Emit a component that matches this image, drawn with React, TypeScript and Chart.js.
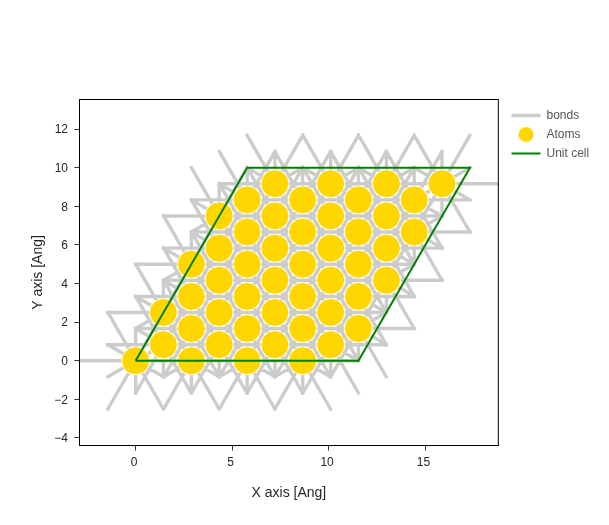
import React, { useEffect, useRef } from 'react';
import { Chart, registerables } from 'chart.js';

Chart.register(...registerables);

const atomX = [
  0,
  1.44, 1.44,
  2.89, 2.89, 2.89, 2.89,
  4.33, 4.33, 4.33, 4.33, 4.33,
  5.78, 5.78, 5.78, 5.78, 5.78, 5.78,
  7.22, 7.22, 7.22, 7.22, 7.22, 7.22,
  8.66, 8.66, 8.66, 8.66, 8.66, 8.66,
  10.11, 10.11, 10.11, 10.11, 10.11, 10.11,
  11.55, 11.55, 11.55, 11.55, 11.55,
  13.0, 13.0, 13.0, 13.0,
  14.44, 14.44,
  15.88,
];
const atomY = [
  0,
  0.83, 2.5,
  0, 1.67, 3.33, 5.0,
  0.83, 2.5, 4.17, 5.83, 7.5,
  0, 1.67, 3.33, 5.0, 6.67, 8.33,
  0.83, 2.5, 4.17, 5.83, 7.5, 9.17,
  0, 1.67, 3.33, 5.0, 6.67, 8.33,
  0.83, 2.5, 4.17, 5.83, 7.5, 9.17,
  1.67, 3.33, 5.0, 6.67, 8.33,
  4.17, 5.83, 7.5, 9.17,
  6.67, 8.33,
  9.17,
];

// neighbours of each atom: six at 1.67 Ang, six at 2.89 Ang
const bondDx = [1.44, 0, -1.44, -1.44, 0, 1.44, 2.89, 1.44, -1.44, -2.89, -1.44, 1.44];
const bondDy = [0.83, 1.67, 0.83, -0.83, -1.67, -0.83, 0, 2.5, 2.5, 0, -2.5, -2.5];

const cellX = [0, 11.55, 17.33, 5.78, 0];
const cellY = [0, 0, 10.0, 10.0, 0];

const xTicks = [0, 5, 10, 15];
const yTicks = [-4, -2, 0, 2, 4, 6, 8, 10, 12];

const legendNames = ['bonds', 'Atoms', 'Unit cell'];

const FONT = 'Liberation Sans';
const GOLD = '#ffd700';
const GREY = '#cccccc';
const GREEN = '#008000';

export default function App() {
  const chartRef = useRef<HTMLCanvasElement>(null);

  useEffect(() => {
    if (!chartRef.current) return;
    const ctx = chartRef.current.getContext('2d');
    if (!ctx) return;

    // segments separated by gaps so the whole bond network is one dataset
    const bondPoints: { x: number | null; y: number | null }[] = [];
    atomX.forEach((x, i) => {
      bondDx.forEach((dx, k) => {
        bondPoints.push({ x, y: atomY[i] });
        bondPoints.push({ x: x + dx, y: atomY[i] + bondDy[k] });
        bondPoints.push({ x: null, y: null });
      });
    });

    // legend marker for the atoms
    const atomMarker = document.createElement('canvas');
    atomMarker.width = 16;
    atomMarker.height = 16;
    const mctx = atomMarker.getContext('2d');
    if (mctx) {
      mctx.fillStyle = GOLD;
      mctx.beginPath();
      mctx.arc(8, 8, 7.5, 0, Math.PI * 2);
      mctx.fill();
    }

    const frame = {
      id: 'frame',
      // the legend sits further from the axes than chart.js would put it
      afterLayout(chart: Chart) {
        if (chart.legend) {
          chart.legend.left = 504.5;
          chart.legend.top += 3;
        }
      },
      afterDraw(chart: Chart) {
        const { left, top, width, height } = chart.chartArea;
        const c = chart.ctx;
        c.save();
        c.strokeStyle = '#000';
        c.lineWidth = 1;
        c.strokeRect(left, top, width, height);
        c.restore();
      },
    };

    const chart = new Chart(ctx, {
      type: 'scatter',
      plugins: [frame],
      data: {
        datasets: [
          {
            label: legendNames[0],
            data: bondPoints,
            showLine: true,
            spanGaps: false,
            borderColor: GREY,
            borderWidth: 3.4,
            borderCapStyle: 'square',
            pointRadius: 0,
            order: 3,
          },
          {
            label: legendNames[1],
            data: atomX.map((x, i) => ({ x, y: atomY[i] })),
            showLine: false,
            backgroundColor: GOLD,
            borderColor: '#ffffff',
            pointRadius: 14,
            pointBorderWidth: 1,
            pointBackgroundColor: GOLD,
            pointBorderColor: '#ffffff',
            order: 2,
          },
          {
            label: legendNames[2],
            data: cellX.map((x, i) => ({ x, y: cellY[i] })),
            showLine: true,
            borderColor: GREEN,
            borderWidth: 2,
            pointRadius: 0,
            order: 1,
          },
        ],
      },
      options: {
        animation: false,
        responsive: false,
        layout: { padding: { top: 99.5, right: 16, left: 0, bottom: 0 } },
        plugins: {
          tooltip: { enabled: false },
          legend: {
            position: 'right',
            align: 'start',
            labels: {
              usePointStyle: true,
              pointStyleWidth: 29,
              padding: 7,
              color: '#555555',
              font: { family: FONT, size: 12 },
              generateLabels: () => [
                { text: legendNames[0], datasetIndex: 0, pointStyle: 'line', strokeStyle: GREY, fillStyle: GREY, lineWidth: 3.4, fontColor: '#555555' },
                { text: legendNames[1], datasetIndex: 1, pointStyle: atomMarker, strokeStyle: GOLD, fillStyle: GOLD, lineWidth: 0, fontColor: '#555555' },
                { text: legendNames[2], datasetIndex: 2, pointStyle: 'line', strokeStyle: GREEN, fillStyle: GREEN, lineWidth: 2, fontColor: '#555555' },
              ],
            },
          },
        },
        scales: {
          x: {
            type: 'linear',
            min: -2.91,
            max: 18.8,
            afterFit: (scale) => { scale.height = 79.5; },
            afterBuildTicks: (scale) => { scale.ticks = xTicks.map((value) => ({ value })); },
            title: {
              display: true,
              text: 'X axis [Ang]',
              color: '#262626',
              font: { family: FONT, size: 14 },
              padding: { top: 0, bottom: 23 },
            },
            grid: { drawOnChartArea: false, drawTicks: true, tickLength: 5, tickColor: '#000', tickWidth: 0.8 },
            border: { color: '#000', width: 1 },
            ticks: {
              color: '#262626',
              font: { family: FONT, size: 12 },
              padding: 4.5,
              labelOffset: -1.5,
              maxRotation: 0,
              autoSkip: false,
            },
          },
          y: {
            type: 'linear',
            min: -4.39,
            max: 13.53,
            afterFit: (scale) => { scale.width = 79.5; },
            afterBuildTicks: (scale) => { scale.ticks = yTicks.map((value) => ({ value })); },
            title: {
              display: true,
              text: 'Y axis [Ang]',
              color: '#262626',
              font: { family: FONT, size: 14 },
              padding: { top: 30, bottom: 0 },
            },
            grid: { drawOnChartArea: false, drawTicks: true, tickLength: 5, tickColor: '#000', tickWidth: 0.8 },
            border: { color: '#000', width: 1 },
            ticks: {
              color: '#262626',
              font: { family: FONT, size: 12 },
              padding: 6.5,
              labelOffset: 1,
              autoSkip: false,
              callback: (value) => String(value).replace('-', '\u2212'),
            },
          },
        },
      },
    });

    return () => {
      chart.destroy();
    };
  }, []);

  return (
    <div style={{ position: 'absolute', left: 0, top: 0, width: 609, height: 525 }}>
      <canvas ref={chartRef} width={609} height={525} />
    </div>
  );
}
